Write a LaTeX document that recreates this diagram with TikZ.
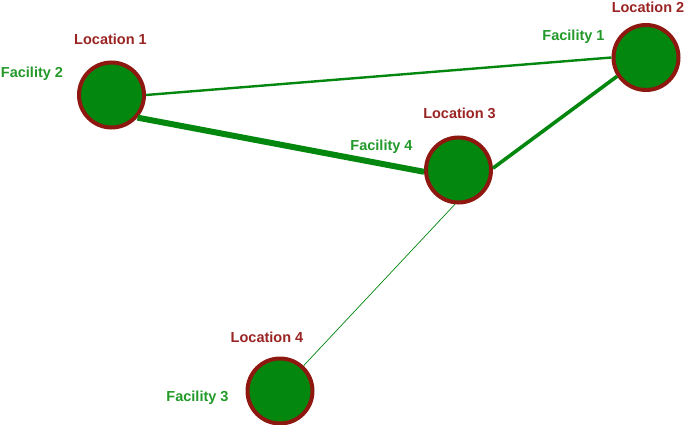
\documentclass[tikz,border=0pt]{standalone}
\usepackage{fontspec}
\setmainfont{Liberation Sans}
\usepackage{tikz}
\usetikzlibrary{positioning}
\definecolor{site}{HTML}{03870F}
\definecolor{rim}{HTML}{8E1710}
\definecolor{loctext}{HTML}{9A2424}
\definecolor{factext}{HTML}{23992A}
\tikzset{
  site/.style={circle,fill=site,draw=rim,line width=4pt,minimum size=65pt,inner sep=0pt},
  loclab/.style={text=loctext,font=\fontsize{14.5}{17}\selectfont\bfseries,inner sep=0pt},
  faclab/.style={text=factext,font=\fontsize{14.5}{17}\selectfont\bfseries,inner sep=0pt},
  link/.style={draw=site}
}

\begin{document}
\begin{tikzpicture}[x=1pt,y=-1pt]
  \useasboundingbox (0,0) rectangle (685,425);
  % Locations
  \node[site] (loc1) at (111.5,95) {};
  \node[site] (loc2) at (646,57.5) {};
  \node[site] (loc3) at (458.5,170) {};
  \node[site] (loc4) at (280,391) {};
  % Links
  \draw[link,line width=2.4pt] (loc1.0) -- (loc2.180);
  \draw[link,line width=6pt] (loc1.-41) -- (loc3.183);
  \draw[link,line width=3.6pt] (loc3.3) -- (loc2.213);
  \draw[link,line width=0.7pt] (loc3.-96) -- (loc4.47);
  % Labels
  \node[loclab] (l1) at (110.5,39) {Location 1};
  \node[loclab] (l2) at (648,7) {Location 2};
  \node[loclab] (l3) at (459.5,113) {Location 3};
  \node[loclab] (l4) at (267,337) {Location 4};
  \node[faclab] (f1) at (573.5,37) {Facility 1};
  \node[faclab] (f2) at (32,74) {Facility 2};
  \node[faclab] (f3) at (197.5,398) {Facility 3};
  \node[faclab] (f4) at (381.5,147) {Facility 4};
\end{tikzpicture}
\end{document}
